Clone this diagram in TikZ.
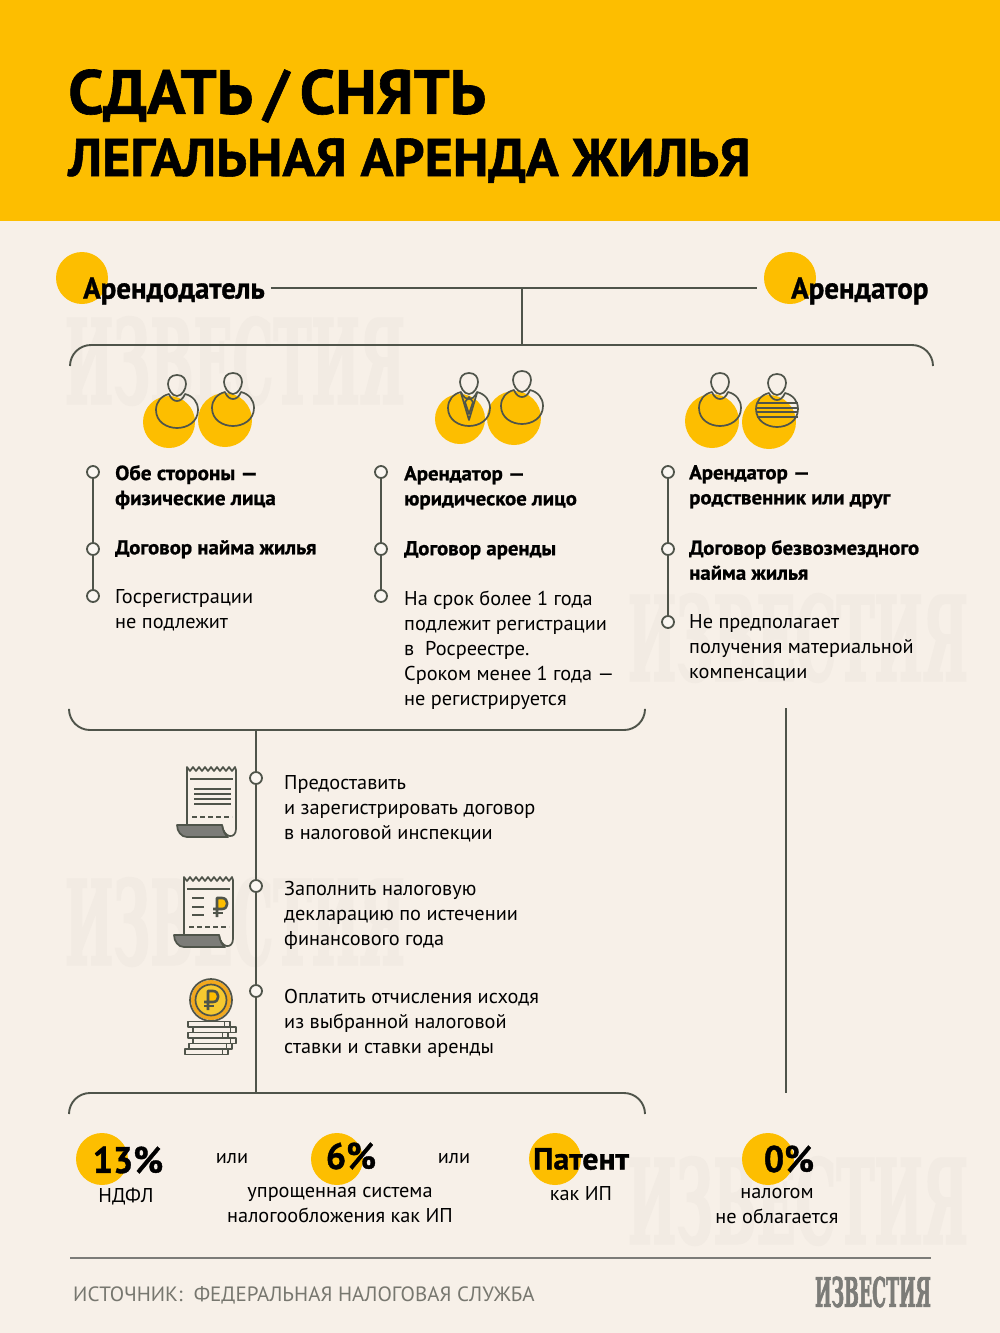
\documentclass[tikz,border=0pt]{standalone}
\usepackage{fontspec}
\usepackage{graphicx}
\setmainfont{PT Sans}
\newfontfamily\bodyfont[FakeStretch=1.015]{PT Sans}
\newfontfamily\headfont[FakeStretch=1.04,FakeBold=1]{PT Sans Bold}
\newfontfamily\sidefont[FakeStretch=0.965,FakeBold=1]{PT Sans Bold}
\newfontfamily\titlefont[FakeStretch=1.02,FakeBold=1]{PT Sans Bold}
\newfontfamily\logofont[FakeBold=2.5]{DejaVu Serif Bold}
\definecolor{pagebg}{HTML}{F7F0E8}
\definecolor{sunny}{HTML}{FDBE00}
\definecolor{wire}{HTML}{4F544A}
\definecolor{mark}{HTML}{F2EBE3}
\definecolor{greytxt}{HTML}{77776F}
\definecolor{coinrim}{HTML}{F2A81D}
\definecolor{coinface}{HTML}{F6C92F}
\definecolor{curlgrey}{HTML}{7C7C78}
\tikzset{
  wireline/.style={draw=wire, line width=1.9pt},
  iconline/.style={draw=wire, line width=1.7pt, line join=round},
  spot/.style={circle, fill=sunny, minimum size=52pt, inner sep=0pt},
  dot/.style={circle, draw=wire, fill=pagebg!60!white, line width=1.8pt, minimum size=12pt, inner sep=0pt},
  txt/.style={font=\bodyfont\fontsize{20}{25}\selectfont, align=left, inner sep=0pt, anchor=north west, text=black},
  boldtxt/.style={txt, font=\headfont\fontsize{20}{25}\selectfont},
  midtxt/.style={txt, align=center, anchor=center},
  side/.style={font=\sidefont\fontsize{30}{32}\selectfont, inner sep=0pt, anchor=west},
  rate/.style={font=\sidefont\fontsize{37}{40}\selectfont, inner sep=0pt, anchor=center},
  person/.pic={
    \draw[iconline] (-8,8) .. controls (-6,13) and (-3,15) .. (0,15) .. controls (3,15) and (6,13) .. (8,8)
      .. controls (16,10) and (21,16) .. (21,24) .. controls (21,36) and (10,42) .. (0,42)
      .. controls (-10,42) and (-21,36) .. (-21,24) .. controls (-21,16) and (-16,10) .. (-8,8) -- cycle;
    \draw[iconline] (0,-11) .. controls (6,-11) and (9,-7) .. (9,-2) .. controls (9,3) and (5,10) .. (0,10)
      .. controls (-5,10) and (-9,3) .. (-9,-2) .. controls (-9,-7) and (-6,-11) .. (0,-11) -- cycle;
  },
  rouble/.pic={
    \fill[sunny] (-3,-9.5) rectangle (6,2);
    \draw[iconline, line width=2.6pt] (-3,10) -- (-3,-9) -- (2,-9) .. controls (9,-9) and (9,2) .. (2,2) -- (-7,2);
    \draw[iconline, line width=2.4pt] (-7,6) -- (3,6);
  },
  receipt/.pic={
    \draw[iconline, fill=pagebg] (0,58) -- (0,0) foreach \k in {0,...,7} {-- ++(3,4) -- ++(3,-4)} -- ++(1,3) -- (49,62)
      .. controls (49,72) and (37,72) .. (35,58) -- cycle;
    \draw[iconline, fill=curlgrey] (-10,58) -- (35,58) .. controls (36,64) and (38,68) .. (41,70) -- (0,70)
      .. controls (-6,70) and (-10,64) .. (-10,58) -- cycle;
    \draw[iconline, dash pattern=on 5pt off 3pt] (5,50) -- (45,50);
    \draw[iconline] (3,12) -- (46,12);
  }
}
\begin{document}
\begin{tikzpicture}[x=1pt, y=-1pt]
\useasboundingbox (0,0) rectangle (1000,1333);
\fill[pagebg] (0,0) rectangle (1000,1333);
\fill[sunny] (0,0) rectangle (1000,220.5);
% watermarks
\foreach \px/\py in {235/361, 235/922, 798/638, 798/1201}
  \node[text=mark, inner sep=0pt] at (\px,\py) {\resizebox{340pt}{86pt}{\logofont ИЗВЕСТИЯ}};
% title
\node[font=\titlefont\fontsize{62.4}{64}\selectfont, inner sep=0pt, anchor=west] (titleone) at (68,96) {СДАТЬ\,/\,СНЯТЬ};
\node[font=\titlefont\fontsize{53.3}{56}\selectfont, inner sep=0pt, anchor=west] (titletwo) at (68,160.5) {ЛЕГАЛЬНАЯ АРЕНДА ЖИЛЬЯ};
% parties
\node[spot] (ownerspot) at (82,278) {};
\node[spot] (tenantspot) at (790,278) {};
\node[side] (owner) at (83,291) {Арендодатель};
\node[side] (tenant) at (791,291) {Арендатор};
\draw[wireline, shorten <=6pt, shorten >=7pt] (owner.east |- 0,288) -- (tenantspot.west |- 0,288);
\coordinate (topjoin) at (522,288);
\coordinate (bracejoin) at (522,345);
\draw[wireline] (topjoin) -- (bracejoin);
\draw[wireline, rounded corners=21pt] (70,366) -- (70,345) -- (933,345) -- (933,366);
% people
\foreach \cx/\cy/\rr in {169/422/26, 225/420/27, 460/419/25, 514/418/27, 712/421/27, 769/422/27}
  \fill[sunny] (\cx,\cy) circle [radius=\rr];
\foreach \hx/\hy in {177/386, 233/384, 469/384, 522/382, 720/384, 777/385}
  \pic at (\hx,\hy) {person};
% tie and lapels
\draw[iconline] (461,393) -- (469,420) -- (477,393);
\draw[iconline] (465,402) -- (469,397) -- (473,402) -- (469,414) -- cycle;
% stripes
\foreach \sy in {403,408,412,417}
  \draw[iconline, line width=1.2pt] (757,\sy) -- (798,\sy);
% first column
\foreach \n/\y in {a/472, b/549, c/596}
  \node[dot] (col1\n) at (93,\y) {};
\draw[wireline] (col1a) -- (col1b) (col1b) -- (col1c);
\node[boldtxt, font=\headfont\fontsize{20.4}{25}\selectfont] (txt1a) at (115,465) {Обе стороны —\\физические лица};
\node[boldtxt] (txt1b) at (115,540) {Договор найма жилья};
\node[txt] (txt1c) at (115,589.5) {Госрегистрации\\не подлежит};
% second column
\foreach \n/\y in {a/472, b/549, c/596}
  \node[dot] (col2\n) at (381,\y) {};
\draw[wireline] (col2a) -- (col2b) (col2b) -- (col2c);
\node[boldtxt] (txt2a) at (404,466) {Арендатор —\\юридическое лицо};
\node[boldtxt] (txt2b) at (404,541) {Договор аренды};
\node[txt] (txt2c) at (404,590.5) {На срок более 1 года\\подлежит регистрации\\в\ \ Росреестре.\\Сроком менее 1 года —\\не регистрируется};
% third column
\foreach \n/\y in {a/472, b/549, c/622}
  \node[dot] (col3\n) at (668,\y) {};
\draw[wireline] (col3a) -- (col3b) (col3b) -- (col3c);
\node[boldtxt] (txt3a) at (689,465) {Арендатор —\\родственник или друг};
\node[boldtxt] (txt3b) at (689,540) {Договор безвозмездного\\найма жилья};
\node[txt] (txt3c) at (689,614.5) {Не предполагает\\получения материальной\\компенсации};
% middle brace and steps
\draw[wireline, rounded corners=21pt] (69,710) -- (69,730) -- (645,730) -- (645,710);
\coordinate (stepstop) at (256,730);
\coordinate (stepsend) at (256,1093);
\draw[wireline] (stepstop) -- (stepsend);
\foreach \n/\y in {a/778, b/886, c/991}
  \node[dot] (step\n) at (256,\y) {};
\node[txt] (stxta) at (284,775) {Предоставить\\и зарегистрировать договор\\в налоговой инспекции};
\node[txt] (stxtb) at (284,881) {Заполнить налоговую\\декларацию по истечении\\финансового года};
\node[txt] (stxtc) at (284,989) {Оплатить отчисления исходя\\из выбранной налоговой\\ставки и ставки аренды};
% icons
\pic at (187,767) {receipt};
\foreach \y in {789,794,799,804}
  \draw[iconline] (194,\y) -- (231,\y);
\pic at (184,877) {receipt};
\foreach \y in {898,907,915}
  \draw[iconline] (192,\y) -- (204,\y);
\pic at (220,907) {rouble};
\fill[coinrim] (211,1000) circle [radius=20];
\draw[iconline] (211,1000) circle [radius=21];
\draw[iconline, fill=coinface] (211,1000) circle [radius=15.5];
\pic at (211,1000) {rouble};
\foreach \la/\ly/\lb in {188/1021.5/230, 193/1027/236, 188/1032.5/228, 193/1038/236, 189/1043.5/232, 185/1049/228}{
  \draw[iconline, fill=pagebg] (\la,\ly) rectangle (\lb,\ly+5.5);
  \draw[iconline, line width=1pt] (\lb-6,\ly) -- (\lb-6,\ly+5.5);
}
% right line
\coordinate (zerotop) at (786,708);
\coordinate (zeroend) at (786,1093);
\draw[wireline] (zerotop) -- (zeroend);
% lower brace
\draw[wireline, rounded corners=21pt] (69,1114) -- (69,1093) -- (645,1093) -- (645,1114);
% rates
\foreach \n/\x in {a/102, b/337, c/555, d/768}
  \node[spot] (ratespot\n) at (\x,1159) {};
\node[rate] (ratea) at (128,1160) {13\%};
\node[rate] (rateb) at (351,1156) {6\%};
\node[rate, font=\headfont\fontsize{30.6}{32}\selectfont] (ratec) at (581,1159) {Патент};
\node[rate] (rated) at (789,1159) {0\%};
\node[midtxt] (ora) at (232,1158.5) {или};
\node[midtxt] (orb) at (454,1158.5) {или};
\node[midtxt] (capa) at (126,1197) {НДФЛ};
\node[midtxt] (capb) at (340,1204.5) {упрощенная система\\налогообложения как ИП};
\node[midtxt] (capc) at (581,1194) {как ИП};
\node[midtxt] (capd) at (777,1205.5) {налогом\\не облагается};
% footer
\coordinate (footleft) at (70,1258);
\coordinate (footright) at (931,1258);
\draw[draw=curlgrey, line width=1.8pt] (footleft) -- (footright);
\node[txt, text=greytxt, font=\bodyfont\fontsize{20.7}{24}\selectfont, anchor=west] (source) at (73,1295) {ИСТОЧНИК:\ \ ФЕДЕРАЛЬНАЯ НАЛОГОВАЯ СЛУЖБА};
\node[text=curlgrey, inner sep=0pt] (logo) at (873,1292) {\resizebox{116pt}{30pt}{\logofont ИЗВЕСТИЯ}};
\end{tikzpicture}
\end{document}
